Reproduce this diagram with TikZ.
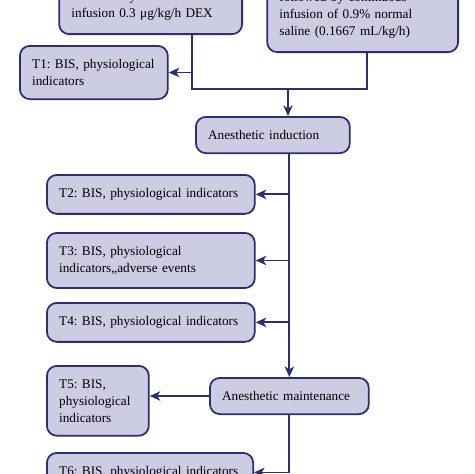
\documentclass[tikz,border=0pt]{standalone}
\usepackage{fontspec}
\setmainfont{Liberation Serif}
\usepackage{tikz}
\usetikzlibrary{arrows.meta}
\usetikzlibrary{positioning}
\hyphenpenalty=10000
\definecolor{boxfill}{RGB}{204,204,226}
\definecolor{boxline}{RGB}{45,45,115}
\tikzstyle{process} = [rectangle, rounded corners=0.3cm, inner xsep=10.5pt, inner ysep=11.5pt, align=left, draw=boxline, line width=1.5pt, fill=boxfill]
\tikzstyle{arrow} = [line width=1.5pt, draw=boxline, -{Stealth[length=9pt, width=8pt, inset=2.5pt]}]
\tikzstyle{line} = [line width=1.5pt, draw=boxline]

\begin{document}
\begin{tikzpicture}[x=0.03cm, y=-0.03cm, every text node part/.style={font=\fontsize{11.3}{14.5}\selectfont\frenchspacing}]
\useasboundingbox (0,0) rectangle (474,474);
\node (dex) [process, text width=4.75cm, anchor=south east] at (243,35) {followed by continuous\\
infusion 0.3 μg/kg/h DEX};
\node (saline) [process, text width=4.99cm, anchor=south east] at (459,53) {followed by continuous\\
infusion of 0.9\% normal\\saline (0.1667 mL/kg/h)};
\node (t1) [process, text width=3.70cm, anchor=north west] at (19,45) {T1: BIS, physiological\\
indicators};
\node (induction) [process, text width=3.88cm, anchor=north west] at (195,116) {Anesthetic induction};
\node (t2) [process, text width=5.50cm, anchor=north west] at (46,174) {T2: BIS, physiological indicators};
\node (t3) [process, text width=5.50cm, anchor=north west] at (46,232) {T3: BIS, physiological\\
indicators,,adverse events};
\node (t4) [process, text width=5.50cm, anchor=north west] at (46,302) {T4: BIS, physiological indicators};
\node (maint) [process, text width=4.03cm, anchor=north west] at (209,377) {Anesthetic maintenance};
\node (t5) [process, text width=2.32cm, anchor=north west] at (46,365) {T5: BIS,\\
physiological\\indicators};
\node (t6) [process, text width=5.45cm, anchor=north west] at (46,452) {T6: BIS, physiological indicators};

\coordinate (jdex) at (192,89);
\coordinate (jsal) at (367,89);
\coordinate (jmid) at (288,89);

\draw [line] (dex.south -| jdex) -- (jdex) -- (jsal) -- (saline.south -| jsal);
\draw [arrow] (t1.east -| jdex) -- (t1.east);
\draw [arrow] (jmid) -- (jmid |- induction.north);
\draw [arrow] (induction.south -| maint.north) -- (maint.north);
\draw [arrow] (t2.east -| maint.north) -- (t2.east);
\draw [arrow] (t3.east -| maint.north) -- (t3.east);
\draw [arrow] (t4.east -| maint.north) -- (t4.east);
\draw [arrow] (maint.west) -- (maint.west -| t5.east);
\draw [arrow] (maint.south) |- (t6.east);
\end{tikzpicture}
\end{document}
